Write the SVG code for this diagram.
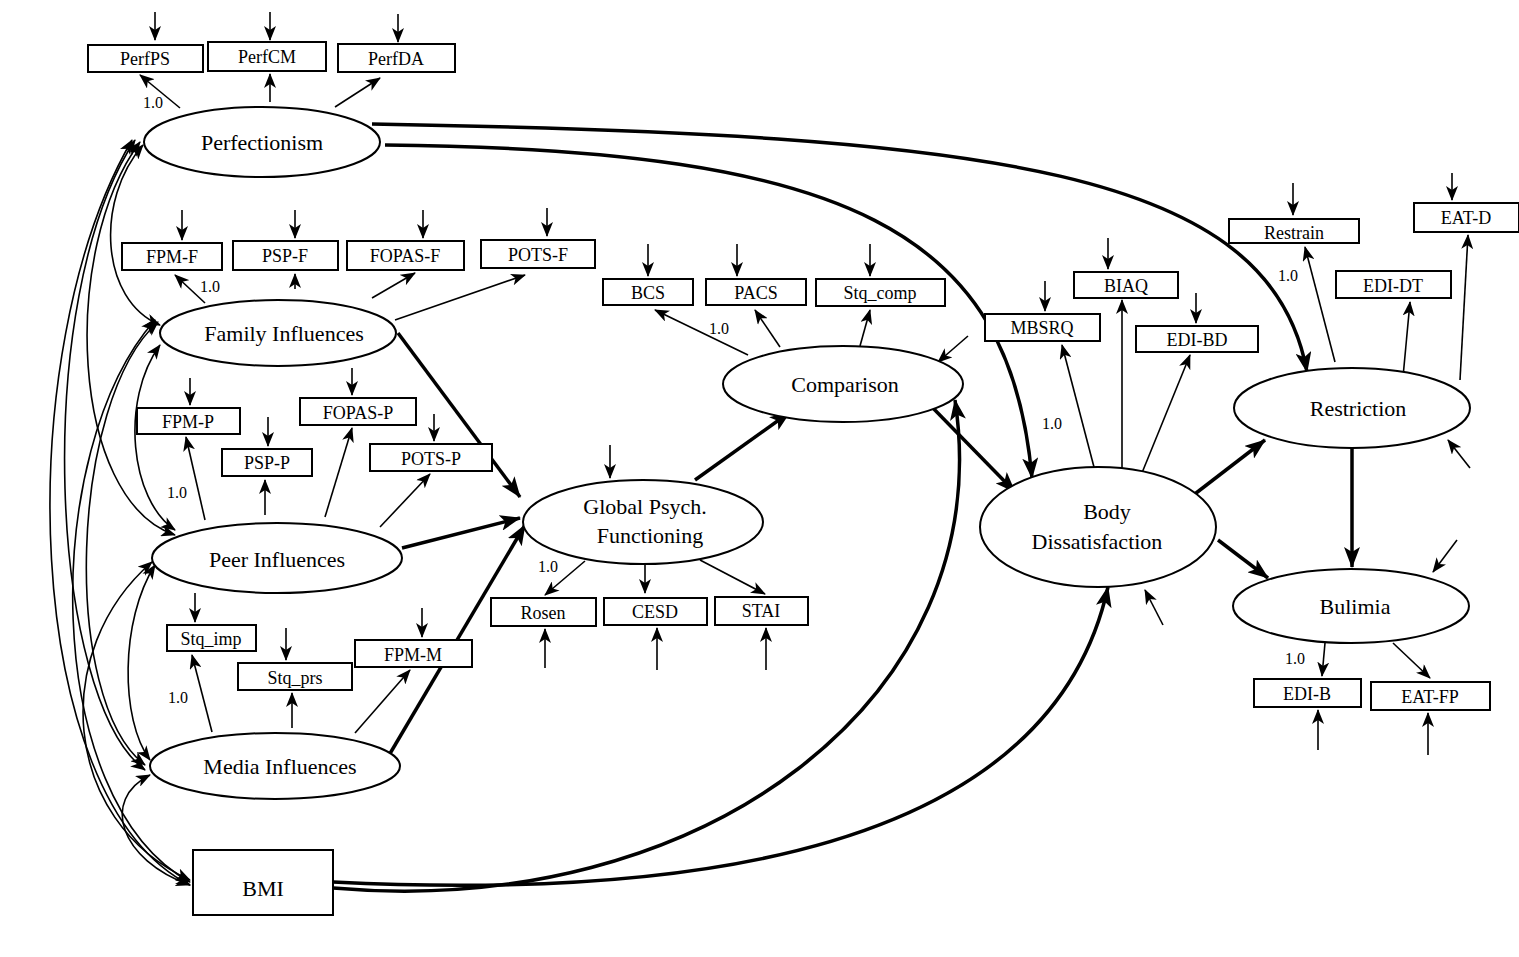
<svg xmlns="http://www.w3.org/2000/svg" width="1519" height="957" viewBox="0 0 1519 957">
<style>
text{font-family:"Liberation Serif",serif;fill:#000}
.lat{font-size:22px}
.ind{font-size:18px}
.lbl{font-size:16px}
ellipse,rect{fill:#fff;stroke:#000;stroke-width:2}
.t{fill:none;stroke:#000;stroke-width:1.6;marker-end:url(#a)}
.k{fill:none;stroke:#000;stroke-width:3.5;marker-end:url(#b)}
.d{fill:none;stroke:#000;stroke-width:1.6;marker-end:url(#a);marker-start:url(#a)}
</style>
<defs>
<marker id="a" markerUnits="userSpaceOnUse" markerWidth="16" markerHeight="12" refX="14" refY="6" orient="auto-start-reverse"><path d="M0,0 L15,6 L0,12 L4,6 Z" fill="#000"/></marker>
<marker id="b" markerUnits="userSpaceOnUse" markerWidth="22" markerHeight="16" refX="20" refY="8" orient="auto"><path d="M0,0 L21,8 L0,16 L5,8 Z" fill="#000"/></marker>
</defs>
<rect x="0" y="0" width="1519" height="957" style="stroke:none"/>
<g id="connectors">
<path class="t" d="M180,108 L140,75"/><path class="t" d="M270,102 L270,74"/><path class="t" d="M335,107 L380,78"/>
<path class="t" d="M205,303 L175,275"/><path class="t" d="M295,289 L295,274"/><path class="t" d="M372,298 L415,273"/><path class="t" d="M395,320 L525,275"/>
<path class="t" d="M205,520 L186,437"/><path class="t" d="M265,515 L265,480"/><path class="t" d="M325,517 L352,428"/><path class="t" d="M380,527 L430,474"/>
<path class="t" d="M212,732 L192,655"/><path class="t" d="M292,728 L292,693"/><path class="t" d="M355,733 L410,670"/>
<path class="t" d="M585,561 L545,595"/><path class="t" d="M645,562 L645,593"/><path class="t" d="M700,560 L765,594"/>
<path class="t" d="M748,355 L655,310"/><path class="t" d="M780,347 L755,310"/><path class="t" d="M860,346 L870,310"/>
<path class="t" d="M1100,490 L1062,345"/><path class="t" d="M1122,490 L1122,300"/><path class="t" d="M1135,490 L1190,355"/>
<path class="t" d="M1335,362 L1305,247"/><path class="t" d="M1403,377 L1410,302"/><path class="t" d="M1460,380 L1468,235"/>
<path class="t" d="M1325,643 L1322,676"/><path class="t" d="M1393,643 L1430,678"/>
<path class="t" d="M155,12 L155,40"/><path class="t" d="M270,12 L270,40"/><path class="t" d="M398,14 L398,42"/>
<path class="t" d="M182,210 L182,240"/><path class="t" d="M295,210 L295,238"/><path class="t" d="M423,210 L423,238"/><path class="t" d="M547,208 L547,236"/>
<path class="t" d="M190,378 L190,405"/><path class="t" d="M268,417 L268,446"/><path class="t" d="M352,368 L352,395"/><path class="t" d="M434,414 L434,441"/>
<path class="t" d="M195,593 L195,622"/><path class="t" d="M286,628 L286,660"/><path class="t" d="M422,608 L422,637"/>
<path class="t" d="M648,244 L648,276"/><path class="t" d="M737,244 L737,276"/><path class="t" d="M870,244 L870,276"/>
<path class="t" d="M610,445 L610,478"/>
<path class="t" d="M1045,281 L1045,311"/><path class="t" d="M1108,238 L1108,269"/><path class="t" d="M1196,293 L1196,323"/>
<path class="t" d="M1293,183 L1293,215"/><path class="t" d="M1452,173 L1452,200"/>
<path class="t" d="M545,668 L545,629"/><path class="t" d="M657,670 L657,628"/><path class="t" d="M766,670 L766,628"/>
<path class="t" d="M1318,750 L1318,710"/><path class="t" d="M1428,755 L1428,713"/>
<path class="t" d="M968,336 L938,362"/><path class="t" d="M1163,625 L1145,590"/><path class="t" d="M1470,468 L1448,440"/><path class="t" d="M1457,540 L1433,572"/>
<path class="k" d="M398,333 L520,497"/><path class="k" d="M402,548 L520,518"/><path class="k" d="M385,762 L525,525"/>
<path class="k" d="M695,480 L790,412"/><path class="k" d="M930,405 L1015,492"/>
<path class="k" d="M385,145 C850,150 1010,230 1032,478"/>
<path class="k" d="M372,124 C1000,135 1270,170 1307,372"/>
<path class="k" d="M1187,500 L1265,440"/><path class="k" d="M1218,540 L1268,578"/><path class="k" d="M1352,448 L1352,567"/>
<path class="k" d="M333,882 C700,900 1050,850 1108,587"/>
<path class="k" d="M333,888 C700,920 1000,700 955,400"/>
<path class="d" d="M143,145 C95,200 100,300 160,325"/>
<path class="d" d="M140,142 C60,250 70,500 175,535"/>
<path class="d" d="M135,140 C30,300 50,700 145,770"/>
<path class="d" d="M132,140 C10,350 20,800 190,885"/>
<path class="d" d="M160,345 C120,400 130,500 175,530"/>
<path class="d" d="M158,322 C70,400 60,700 145,765"/>
<path class="d" d="M155,320 C40,450 40,800 190,882"/>
<path class="d" d="M155,565 C120,620 120,720 150,760"/>
<path class="d" d="M152,562 C50,650 60,820 190,880"/>
<path class="d" d="M150,775 C100,800 120,860 190,885"/>
</g>
<g class="lbl">
<text x="143" y="108">1.0</text><text x="200" y="292">1.0</text><text x="167" y="498">1.0</text><text x="168" y="703">1.0</text>
<text x="538" y="572">1.0</text><text x="709" y="334">1.0</text><text x="1042" y="429">1.0</text><text x="1278" y="281">1.0</text><text x="1285" y="664">1.0</text>
</g>
<g id="n-perf"><ellipse cx="262" cy="142" rx="118" ry="35"/><text class="lat" x="262" y="150" text-anchor="middle">Perfectionism</text></g>
<g id="n-family"><ellipse cx="278" cy="333" rx="118" ry="33"/><text class="lat" x="284" y="341" text-anchor="middle">Family Influences</text></g>
<g id="n-peer"><ellipse cx="277" cy="558" rx="125" ry="35"/><text class="lat" x="277" y="567" text-anchor="middle">Peer Influences</text></g>
<g id="n-media"><ellipse cx="275" cy="766" rx="125" ry="33"/><text class="lat" x="280" y="774" text-anchor="middle">Media Influences</text></g>
<g id="n-bmi"><rect x="193" y="850" width="140" height="65"/><text class="lat" x="263" y="896" text-anchor="middle">BMI</text></g>
<g id="n-global"><ellipse cx="643" cy="522" rx="120" ry="42"/><text class="lat" x="645" y="514" text-anchor="middle">Global Psych.</text><text class="lat" x="650" y="543" text-anchor="middle">Functioning</text></g>
<g id="n-comp"><ellipse cx="843" cy="384" rx="120" ry="38"/><text class="lat" x="845" y="392" text-anchor="middle">Comparison</text></g>
<g id="n-body"><ellipse cx="1098" cy="527" rx="118" ry="60"/><text class="lat" x="1107" y="519" text-anchor="middle">Body</text><text class="lat" x="1097" y="549" text-anchor="middle">Dissatisfaction</text></g>
<g id="n-restr"><ellipse cx="1352" cy="408" rx="118" ry="40"/><text class="lat" x="1358" y="416" text-anchor="middle">Restriction</text></g>
<g id="n-bul"><ellipse cx="1351" cy="606" rx="118" ry="37"/><text class="lat" x="1355" y="614" text-anchor="middle">Bulimia</text></g>
<g class="ind">
<g id="i-perfps"><rect x="88" y="45" width="115" height="27"/><text x="145" y="65" text-anchor="middle">PerfPS</text></g>
<g id="i-perfcm"><rect x="208" y="42" width="118" height="29"/><text x="267" y="63" text-anchor="middle">PerfCM</text></g>
<g id="i-perfda"><rect x="338" y="44" width="117" height="28"/><text x="396" y="65" text-anchor="middle">PerfDA</text></g>
<g id="i-fpmf"><rect x="122" y="243" width="100" height="27"/><text x="172" y="263" text-anchor="middle">FPM-F</text></g>
<g id="i-pspf"><rect x="233" y="241" width="105" height="29"/><text x="285" y="262" text-anchor="middle">PSP-F</text></g>
<g id="i-fopasf"><rect x="347" y="241" width="117" height="29"/><text x="405" y="262" text-anchor="middle">FOPAS-F</text></g>
<g id="i-potsf"><rect x="481" y="240" width="114" height="28"/><text x="538" y="261" text-anchor="middle">POTS-F</text></g>
<g id="i-fpmp"><rect x="137" y="408" width="103" height="26"/><text x="188" y="428" text-anchor="middle">FPM-P</text></g>
<g id="i-pspp"><rect x="222" y="449" width="90" height="27"/><text x="267" y="469" text-anchor="middle">PSP-P</text></g>
<g id="i-fopasp"><rect x="300" y="398" width="116" height="27"/><text x="358" y="419" text-anchor="middle">FOPAS-P</text></g>
<g id="i-potsp"><rect x="370" y="444" width="122" height="27"/><text x="431" y="465" text-anchor="middle">POTS-P</text></g>
<g id="i-stqimp"><rect x="167" y="625" width="89" height="26"/><text x="211" y="645" text-anchor="middle">Stq_imp</text></g>
<g id="i-stqprs"><rect x="238" y="663" width="114" height="27"/><text x="295" y="684" text-anchor="middle">Stq_prs</text></g>
<g id="i-fpmm"><rect x="355" y="640" width="117" height="27"/><text x="413" y="661" text-anchor="middle">FPM-M</text></g>
<g id="i-bcs"><rect x="603" y="279" width="90" height="26"/><text x="648" y="299" text-anchor="middle">BCS</text></g>
<g id="i-pacs"><rect x="706" y="279" width="100" height="26"/><text x="756" y="299" text-anchor="middle">PACS</text></g>
<g id="i-stqcomp"><rect x="816" y="279" width="129" height="27"/><text x="880" y="299" text-anchor="middle">Stq_comp</text></g>
<g id="i-rosen"><rect x="491" y="598" width="105" height="28"/><text x="543" y="619" text-anchor="middle">Rosen</text></g>
<g id="i-cesd"><rect x="604" y="598" width="103" height="27"/><text x="655" y="618" text-anchor="middle">CESD</text></g>
<g id="i-stai"><rect x="715" y="597" width="93" height="28"/><text x="761" y="617" text-anchor="middle">STAI</text></g>
<g id="i-mbsrq"><rect x="985" y="314" width="115" height="27"/><text x="1042" y="334" text-anchor="middle">MBSRQ</text></g>
<g id="i-biaq"><rect x="1074" y="272" width="104" height="26"/><text x="1126" y="292" text-anchor="middle">BIAQ</text></g>
<g id="i-edibd"><rect x="1136" y="326" width="122" height="26"/><text x="1197" y="346" text-anchor="middle">EDI-BD</text></g>
<g id="i-restrain"><rect x="1229" y="219" width="130" height="24"/><text x="1294" y="239" text-anchor="middle">Restrain</text></g>
<g id="i-edidt"><rect x="1336" y="271" width="115" height="27"/><text x="1393" y="292" text-anchor="middle">EDI-DT</text></g>
<g id="i-eatd"><rect x="1414" y="203" width="105" height="29"/><text x="1466" y="224" text-anchor="middle">EAT-D</text></g>
<g id="i-edib"><rect x="1254" y="679" width="107" height="28"/><text x="1307" y="700" text-anchor="middle">EDI-B</text></g>
<g id="i-eatfp"><rect x="1371" y="682" width="119" height="28"/><text x="1430" y="703" text-anchor="middle">EAT-FP</text></g>
</g>
</svg>
